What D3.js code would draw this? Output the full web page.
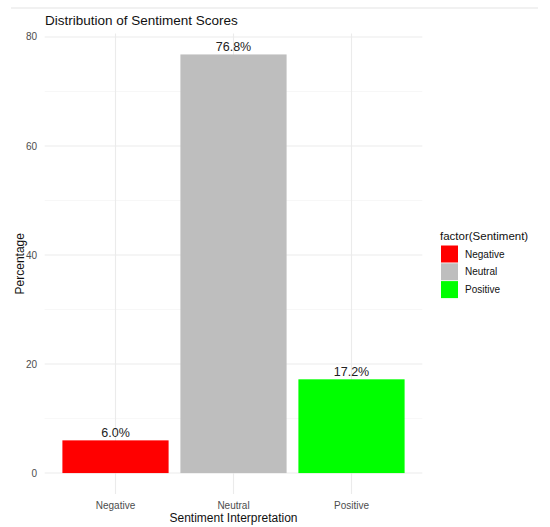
<!DOCTYPE html>
<html>
<head>
<meta charset="utf-8">
<script src="https://cdn.jsdelivr.net/npm/d3@7"></script>
<style>
  body { margin: 0; background: #fff; }
  text { font-family: "Liberation Sans", Arial, sans-serif; }
</style>
</head>
<body>
<svg width="550" height="527"></svg>
<script>
let categories = ["Negative", "Neutral", "Positive"]
let percentages = [6.0, 76.8, 17.2]
let barColors = ["#ff0000", "#bebebe", "#00ff00"]
let yTicks = [0, 20, 40, 60, 80]
let yMinorTicks = [10, 30, 50, 70]

let margin = { top: 33.5, left: 44.7, right: 422.3, bottom: 494 }

let svg = d3.select("svg")

// faint line across the top of the image
svg.append("line")
    .attr("x1", 11).attr("x2", 538)
    .attr("y1", 8).attr("y2", 8)
    .style("stroke", "#ececec")
    .style("stroke-width", 1.5)

let yMax = d3.max(percentages)
let x = d3.scalePoint()
    .domain(categories)
    .range([margin.left, margin.right])
    .padding(0.6)
let step = x.step()
let bw = step * 0.9

let y = d3.scaleLinear()
    .domain([-yMax * 0.05, yMax * 1.05])
    .range([margin.bottom, margin.top])

// minor grid
svg.append("g").selectAll("line")
    .data(yMinorTicks)
    .join("line")
    .attr("x1", margin.left).attr("x2", margin.right)
    .attr("y1", d => y(d)).attr("y2", d => y(d))
    .style("stroke", "#f2f2f2")
    .style("stroke-width", 0.6)

// major grid
svg.append("g").selectAll("line")
    .data(yTicks)
    .join("line")
    .attr("x1", margin.left).attr("x2", margin.right)
    .attr("y1", d => y(d)).attr("y2", d => y(d))
    .style("stroke", "#ebebeb")
    .style("stroke-width", 1.1)

svg.append("g").selectAll("line")
    .data(categories)
    .join("line")
    .attr("x1", d => x(d)).attr("x2", d => x(d))
    .attr("y1", margin.top).attr("y2", margin.bottom)
    .style("stroke", "#ebebeb")
    .style("stroke-width", 1.1)

// bars
svg.append("g").selectAll("rect")
    .data(categories)
    .join("rect")
    .attr("x", d => x(d) - bw / 2)
    .attr("width", bw)
    .attr("y", (d, i) => y(percentages[i]))
    .attr("height", (d, i) => y(0) - y(percentages[i]))
    .style("fill", (d, i) => barColors[i])

// value labels
svg.append("g").selectAll("text")
    .data(categories)
    .join("text")
    .attr("x", d => x(d))
    .attr("y", (d, i) => y(percentages[i]) - 3.5)
    .attr("text-anchor", "middle")
    .style("font-size", "12.5px")
    .style("fill", "#222")
    .text((d, i) => percentages[i].toFixed(1) + "%")

// y tick labels
svg.append("g").selectAll("text")
    .data(yTicks)
    .join("text")
    .attr("x", 37)
    .attr("y", d => y(d))
    .attr("dy", "0.35em")
    .attr("text-anchor", "end")
    .style("font-size", "10px")
    .style("fill", "#4d4d4d")
    .text(d => d)

// x tick labels
svg.append("g").selectAll("text")
    .data(categories)
    .join("text")
    .attr("x", d => x(d))
    .attr("y", 509)
    .attr("text-anchor", "middle")
    .style("font-size", "10px")
    .style("fill", "#4d4d4d")
    .text(d => d)

// axis titles
svg.append("text")
    .attr("x", (margin.left + margin.right) / 2)
    .attr("y", 522)
    .attr("text-anchor", "middle")
    .style("font-size", "12px")
    .style("fill", "#111")
    .text("Sentiment Interpretation")

svg.append("text")
    .attr("transform", `translate(24,${(margin.top + margin.bottom) / 2}) rotate(-90)`)
    .attr("text-anchor", "middle")
    .style("font-size", "12px")
    .style("fill", "#111")
    .text("Percentage")

// title
svg.append("text")
    .attr("x", 45)
    .attr("y", 25)
    .style("font-size", "13.5px")
    .style("fill", "#111")
    .text("Distribution of Sentiment Scores")

// legend
let legend = svg.append("g").attr("transform", "translate(441,245.5)")
legend.append("text")
    .attr("x", -1)
    .attr("y", -6)
    .style("font-size", "11.5px")
    .style("fill", "#111")
    .text("factor(Sentiment)")

let keys = legend.selectAll("g")
    .data(categories)
    .join("g")
    .attr("transform", (d, i) => `translate(0,${i * 17.8})`)
keys.append("rect")
    .attr("width", 17)
    .attr("height", 17)
    .style("fill", (d, i) => barColors[i])
keys.append("text")
    .attr("x", 24)
    .attr("y", 8.5)
    .attr("dy", "0.35em")
    .style("font-size", "10px")
    .style("fill", "#111")
    .text(d => d)
</script>
</body>
</html>
